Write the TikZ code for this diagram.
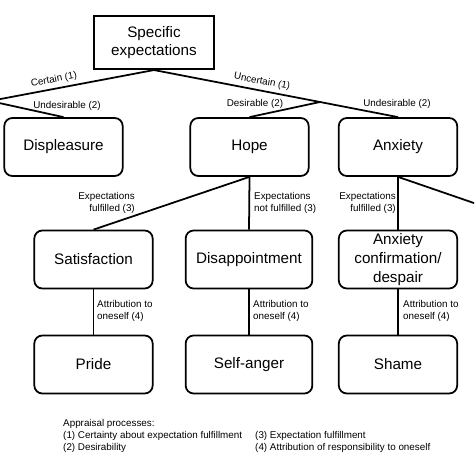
\documentclass[tikz,border=0pt]{standalone}
\usepackage{fontspec}
\setmainfont{Liberation Sans}
\usepackage{tikz}

\tikzset{
  rootbox/.style={draw, line width=1.5pt, minimum width=3.6cm, minimum height=1.6cm,
    align=center, inner sep=0pt, font=\fontsize{13}{16}\selectfont},
  emobox/.style={draw, line width=1.5pt, rounded corners=2.4mm, minimum width=3.55cm,
    minimum height=1.74cm, align=center, inner sep=0pt, font=\fontsize{13}{16}\selectfont},
  lbl/.style={font=\fontsize{8.4}{10.2}\selectfont, inner sep=0pt},
  link/.style={line width=1.5pt}
}

\begin{document}
\begin{tikzpicture}[x=0.3mm, y=-0.3mm]
\clip (0,0) rectangle (474,474);
% boxes
\node[rootbox] (root) at (154,42.5) {Specific\\expectations};
\node[emobox] (displ) at (63.5,147) {Displeasure};
\node[emobox] (hope) at (249.5,147) {Hope};
\node[emobox] (anx) at (398,147) {Anxiety};
\node[emobox] (satis) at (93.5,259.5) {Satisfaction};
\node[emobox, minimum width=3.8cm] (disap) at (249,259.5) {Disappointment};
\node[emobox] (anxc) at (398,259.5) {Anxiety\\confirmation/\\despair};
\node[emobox] (pride) at (93.5,364.5) {Pride};
\node[emobox, minimum width=3.8cm] (selfa) at (249,364.5) {Self-anger};
\node[emobox] (shame) at (398,364.5) {Shame};
% branch points
\coordinate (certain) at (-10,101);
\coordinate (uncertain) at (320,102);
\coordinate (offright) at (500,212);
% connectors
\draw[link] (root.south) -- node[lbl, sloped, above=3pt, pos=0.6] (lcert) {Certain (1)} (certain) -- (displ.north);
\draw[link] (root.south) -- node[lbl, sloped, above=3pt, pos=0.64] (lunc) {Uncertain (1)} (uncertain) -- (anx.north);
\draw[link] (uncertain) -- (hope.north);
\draw[link] (hope.south) -- (satis.north);
\draw[link] (hope.south) -- (disap.north);
\draw[link] (anx.south) -- (anxc.north);
\draw[link] (anx.south) -- (offright);
\draw[link] (satis) -- (pride);
\draw[link] (disap) -- (selfa);
\draw[link] (anxc) -- (shame);
% labels
\node[lbl] (lundA) at (67,106) {Undesirable (2)};
\node[lbl] (ldes) at (255,104) {Desirable (2)};
\node[lbl] (lundB) at (397,104) {Undesirable (2)};
\node[lbl, align=right, anchor=east] (lfulA) at (135,203) {Expectations\\fulfilled (3)};
\node[lbl, align=left, anchor=west] (lnotful) at (254,203) {Expectations\\not fulfilled (3)};
\node[lbl, align=right, anchor=east] (lfulB) at (396,203) {Expectations\\fulfilled (3)};
\node[lbl, align=left, anchor=west] (lattA) at (97,311) {Attribution to\\oneself (4)};
\node[lbl, align=left, anchor=west] (lattB) at (253,311) {Attribution to\\oneself (4)};
\node[lbl, align=left, anchor=west] (lattC) at (403,311) {Attribution to\\oneself (4)};
% legend
\node[lbl, anchor=west] (legtitle) at (63,424) {Appraisal processes:};
\node[lbl, anchor=west] (leg1) at (63,436) {(1) Certainty about expectation fulfillment};
\node[lbl, anchor=west] (leg2) at (63,448) {(2) Desirability};
\node[lbl, anchor=west] (leg3) at (255,436) {(3) Expectation fulfillment};
\node[lbl, anchor=west] (leg4) at (255,448) {(4) Attribution of responsibility to oneself};
\end{tikzpicture}
\end{document}
